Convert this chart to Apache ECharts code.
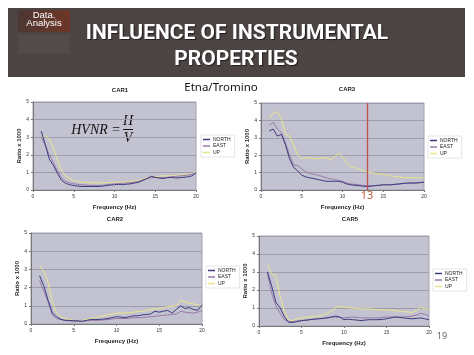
<!DOCTYPE html>
<html>
<head>
<meta charset="utf-8">
<script src="https://cdn.jsdelivr.net/npm/echarts@6/dist/echarts.min.js"></script>
<style>
    html, body { margin: 0; padding: 0; background: #fff; }
    #main { width: 474px; height: 355px; }
</style>
</head>
<body>
<div id="main"></div>
<script>
// 频率 (Hz)
var freq = [1, 1.5, 2, 2.5, 3, 3.5, 4, 4.5, 5, 5.5, 6, 6.5, 7, 7.5, 8, 8.5, 9, 9.5, 10, 10.5,
    11, 11.5, 12, 12.5, 13, 13.5, 14, 14.5, 15, 15.5, 16, 16.5, 17, 17.5, 18, 18.5, 19, 19.5, 20]
var seriesNames = ['NORTH', 'EAST', 'UP']
var xTicks = [0, 5, 10, 15, 20]
var yTicks = [0, 1, 2, 3, 4, 5]

// CAR1
var car1North = [3.35, 2.6, 1.75, 1.4, 0.95, 0.55, 0.38, 0.3, 0.25, 0.22, 0.2, 0.2, 0.2, 0.2, 0.2, 0.22, 0.25, 0.28, 0.3, 0.32,
    0.3, 0.33, 0.35, 0.4, 0.45, 0.55, 0.65, 0.78, 0.72, 0.68, 0.65, 0.7, 0.72, 0.68, 0.7, 0.72, 0.75, 0.8, 0.98]
var car1East = [3.0, 2.55, 2.0, 1.55, 1.1, 0.7, 0.5, 0.4, 0.35, 0.32, 0.3, 0.28, 0.27, 0.26, 0.25, 0.27, 0.3, 0.32, 0.35, 0.37,
    0.38, 0.4, 0.42, 0.45, 0.5, 0.58, 0.65, 0.7, 0.72, 0.7, 0.7, 0.72, 0.75, 0.77, 0.8, 0.82, 0.85, 0.9, 0.95]
var car1Up = [2.9, 3.1, 2.9, 2.4, 1.7, 1.1, 0.8, 0.65, 0.55, 0.5, 0.45, 0.43, 0.42, 0.4, 0.4, 0.41, 0.42, 0.44, 0.45, 0.45,
    0.46, 0.48, 0.5, 0.52, 0.55, 0.62, 0.7, 0.74, 0.76, 0.78, 0.8, 0.8, 0.8, 0.83, 0.85, 0.88, 0.9, 0.93, 1.0]

// CAR3
var car3North = [3.4, 3.5, 3.1, 3.2, 2.6, 1.8, 1.3, 1.1, 0.85, 0.75, 0.7, 0.65, 0.6, 0.55, 0.5, 0.5, 0.5, 0.5, 0.45, 0.35,
    0.3, 0.27, 0.25, 0.22, 0.2, 0.22, 0.25, 0.27, 0.3, 0.3, 0.3, 0.33, 0.35, 0.38, 0.4, 0.4, 0.4, 0.42, 0.45]
var car3East = [3.7, 3.9, 3.5, 3.3, 2.7, 2.0, 1.45, 1.4, 1.2, 1.05, 0.95, 0.9, 0.85, 0.78, 0.7, 0.65, 0.6, 0.55, 0.5, 0.4,
    0.35, 0.32, 0.3, 0.27, 0.25, 0.25, 0.25, 0.28, 0.3, 0.3, 0.3, 0.33, 0.35, 0.38, 0.4, 0.4, 0.4, 0.43, 0.45]
var car3Up = [4.1, 4.4, 4.5, 4.1, 3.2, 3.1, 2.6, 2.0, 1.8, 1.85, 1.85, 1.8, 1.8, 1.85, 1.85, 1.75, 1.9, 2.1, 1.9, 1.6,
    1.35, 1.28, 1.2, 1.12, 1.05, 1.0, 0.95, 0.92, 0.9, 0.85, 0.8, 0.78, 0.75, 0.72, 0.7, 0.7, 0.7, 0.7, 0.7]
var car3Mark = 13

// CAR2
var car2North = [2.65, 2.1, 1.3, 0.6, 0.4, 0.25, 0.2, 0.2, 0.18, 0.17, 0.15, 0.2, 0.25, 0.25, 0.25, 0.27, 0.3, 0.35, 0.4, 0.38,
    0.35, 0.4, 0.45, 0.45, 0.5, 0.52, 0.55, 0.7, 0.65, 0.7, 0.75, 0.6, 0.8, 1.0, 0.85, 0.9, 0.8, 0.75, 1.05]
var car2East = [2.4, 1.8, 1.2, 0.5, 0.3, 0.25, 0.2, 0.17, 0.15, 0.15, 0.15, 0.18, 0.2, 0.2, 0.2, 0.22, 0.25, 0.28, 0.3, 0.3,
    0.3, 0.32, 0.35, 0.35, 0.35, 0.38, 0.4, 0.42, 0.45, 0.48, 0.5, 0.52, 0.55, 0.7, 0.65, 0.62, 0.6, 0.65, 0.75]
var car2Up = [3.2, 2.9, 2.3, 1.2, 0.6, 0.4, 0.3, 0.25, 0.2, 0.1, 0.2, 0.25, 0.3, 0.35, 0.4, 0.45, 0.5, 0.55, 0.6, 0.6,
    0.6, 0.62, 0.65, 0.68, 0.7, 0.75, 0.8, 0.82, 0.85, 0.9, 0.95, 0.97, 1.0, 1.3, 1.2, 1.15, 1.1, 1.05, 1.0]

// CAR5
var car5North = [3.0, 2.2, 1.3, 1.0, 0.5, 0.2, 0.2, 0.25, 0.3, 0.32, 0.35, 0.38, 0.4, 0.42, 0.45, 0.5, 0.55, 0.5, 0.35, 0.38,
    0.35, 0.33, 0.3, 0.33, 0.35, 0.35, 0.35, 0.37, 0.4, 0.45, 0.5, 0.48, 0.45, 0.42, 0.4, 0.42, 0.45, 0.4, 0.35]
var car5East = [2.9, 1.8, 1.1, 0.7, 0.35, 0.25, 0.25, 0.28, 0.3, 0.32, 0.35, 0.38, 0.4, 0.42, 0.45, 0.48, 0.5, 0.48, 0.45, 0.48,
    0.5, 0.48, 0.45, 0.45, 0.45, 0.45, 0.45, 0.48, 0.5, 0.5, 0.5, 0.5, 0.5, 0.52, 0.55, 0.6, 0.7, 0.65, 0.55]
var car5Up = [3.4, 2.9, 2.8, 1.6, 0.8, 0.35, 0.3, 0.4, 0.45, 0.48, 0.5, 0.52, 0.55, 0.62, 0.7, 0.85, 1.0, 1.1, 1.05, 1.02,
    1.0, 0.97, 0.95, 0.95, 0.95, 0.92, 0.9, 0.9, 0.9, 0.88, 0.85, 0.82, 0.8, 0.78, 0.75, 0.85, 1.05, 0.95, 0.95]

var colors = ['#3d3a7e', '#9a7aa8', '#e8e68c']
var markColor = '#c0504d'
var font = 'Liberation Sans'

// 四个小图: 标题, 位置, 数据
var panels = [
    { title: 'CAR1', tx: 120, ty: 90, grid: { left: 33, top: 102, width: 163, height: 88 }, legend: { left: 201, top: 135 }, data: [car1North, car1East, car1Up] },
    { title: 'CAR3', tx: 347, ty: 89, grid: { left: 261, top: 103, width: 163, height: 87 }, legend: { left: 428, top: 136 }, data: [car3North, car3East, car3Up], mark: car3Mark },
    { title: 'CAR2', tx: 115, ty: 219, grid: { left: 31, top: 233, width: 171, height: 91 }, legend: { left: 206, top: 266 }, data: [car2North, car2East, car2Up] },
    { title: 'CAR5', tx: 350, ty: 219, grid: { left: 259, top: 236, width: 170, height: 90 }, legend: { left: 433, top: 269 }, data: [car5North, car5East, car5Up] }
]

function $each(arr, fn) { for (let i = 0; i < arr.length; i++) fn(i, arr[i]) }
function toPairs(values) {
    let out = []
    $each(values, (i, v) => { out.push([freq[i], v]) })
    return out
}

var grids = [], xAxes = [], yAxes = [], legends = [], series = []
var graphics = []

// 幻灯片标题栏
graphics.push({ type: 'rect', shape: { x: 8, y: 8, width: 457, height: 69 }, style: { fill: '#4b4443' } })
graphics.push({
    type: 'rect', shape: { x: 18, y: 10, width: 52, height: 22 },
    style: { fill: new echarts.graphic.LinearGradient(0, 0, 1, 0, [{ offset: 0, color: '#4c3733' }, { offset: 1, color: '#6e3626' }]) }
})
graphics.push({ type: 'rect', shape: { x: 18, y: 34, width: 52, height: 20 }, style: { fill: 'rgba(255,255,255,0.04)' } })
graphics.push({ type: 'text', x: 44, y: 15, style: { text: 'Data.', fill: '#fff', font: '9.5px "Liberation Sans"', align: 'center', verticalAlign: 'middle' } })
graphics.push({ type: 'text', x: 44, y: 23, style: { text: 'Analysis', fill: '#fff', font: '9.5px "Liberation Sans"', align: 'center', verticalAlign: 'middle' } })
graphics.push({ type: 'text', x: 237, y: 34, style: { text: 'INFLUENCE OF INSTRUMENTAL', fill: '#fff', font: 'bold 21px Roboto', align: 'center', verticalAlign: 'middle', textShadowColor: 'rgba(0,0,0,0.6)', textShadowOffsetX: 1, textShadowOffsetY: 1, textShadowBlur: 1 } })
graphics.push({ type: 'text', x: 236, y: 60, style: { text: 'PROPERTIES', fill: '#fff', font: 'bold 21px Roboto', align: 'center', verticalAlign: 'middle', textShadowColor: 'rgba(0,0,0,0.6)', textShadowOffsetX: 1, textShadowOffsetY: 1, textShadowBlur: 1 } })
graphics.push({ type: 'text', x: 221, y: 88, style: { text: 'Etna/Tromino', fill: '#111', font: '11.5px "Noto Sans"', align: 'center', verticalAlign: 'middle' } })

// 公式 HVNR = H/V
graphics.push({ type: 'text', x: 96, y: 130, style: { text: 'HVNR =', fill: '#111', font: 'italic 14px "Liberation Serif"', align: 'center', verticalAlign: 'middle' } })
graphics.push({ type: 'text', x: 128, y: 121, style: { text: 'H', fill: '#111', font: 'italic 14px "Liberation Serif"', align: 'center', verticalAlign: 'middle' } })
graphics.push({ type: 'line', shape: { x1: 123, y1: 129.5, x2: 133, y2: 129.5 }, style: { stroke: '#111', lineWidth: 1 } })
graphics.push({ type: 'text', x: 128, y: 138, style: { text: 'V', fill: '#111', font: 'italic 14px "Liberation Serif"', align: 'center', verticalAlign: 'middle' } })

// 页码
graphics.push({ type: 'text', x: 442, y: 336, style: { text: '19', fill: '#666', font: '9px "Noto Sans"', align: 'center', verticalAlign: 'middle' } })

$each(panels, (p, panel) => {
    graphics.push({ type: 'text', x: panel.tx, y: panel.ty, style: { text: panel.title, fill: '#222', font: 'bold 6px "Liberation Sans"', align: 'center', verticalAlign: 'middle' } })
    grids.push(Object.assign({
        show: true,
        backgroundColor: '#c3c2d0',
        borderColor: '#a3a2b2',
        borderWidth: 1
    }, panel.grid))
    xAxes.push({
        type: 'value',
        gridIndex: p,
        min: xTicks[0],
        max: xTicks[xTicks.length - 1],
        interval: 5,
        name: 'Frequency (Hz)',
        nameLocation: 'middle',
        nameGap: 14,
        nameTextStyle: { fontFamily: font, fontWeight: 'bold', fontSize: 6, color: '#222' },
        axisLine: { show: true, lineStyle: { color: '#777', width: 1 } },
        axisTick: { show: true, length: 2, lineStyle: { color: '#777' } },
        axisLabel: { fontFamily: font, fontSize: 5, color: '#333', margin: 4 },
        splitLine: { show: false }
    })
    yAxes.push({
        type: 'value',
        gridIndex: p,
        min: yTicks[0],
        max: yTicks[yTicks.length - 1],
        interval: 1,
        name: 'Ratio x 1000',
        nameLocation: 'middle',
        nameGap: 11,
        nameTextStyle: { fontFamily: font, fontWeight: 'bold', fontSize: 6, color: '#222' },
        axisLine: { show: true, lineStyle: { color: '#777', width: 1 } },
        axisTick: { show: true, length: 2, lineStyle: { color: '#777' } },
        axisLabel: { fontFamily: font, fontSize: 5, color: '#333', margin: 4 },
        splitLine: { show: true, lineStyle: { color: '#9e9dae', width: 1 } }
    })
    legends.push({
        left: panel.legend.left,
        top: panel.legend.top,
        orient: 'vertical',
        data: seriesNames,
        icon: 'rect',
        itemWidth: 7,
        itemHeight: 1.5,
        itemGap: 1.5,
        padding: [2, 4, 2, 2],
        backgroundColor: '#fff',
        borderColor: '#c8c8c8',
        borderWidth: 0.5,
        textStyle: { fontFamily: font, fontSize: 5, color: '#222', padding: [0, 0, 0, -2] }
    })
    $each(panel.data, (k, values) => {
        let s = {
            name: seriesNames[k],
            type: 'line',
            xAxisIndex: p,
            yAxisIndex: p,
            data: toPairs(values),
            showSymbol: false,
            silent: true,
            color: colors[k],
            lineStyle: { width: 1, color: colors[k] },
            z: k === 0 ? 4 : (k === 1 ? 3 : 2)
        }
        if (panel.mark !== undefined && k === 2) {
            // 13 Hz 红色竖线
            s.markLine = {
                symbol: 'none',
                silent: true,
                lineStyle: { color: markColor, type: 'solid', width: 1.3, opacity: 1 },
                itemStyle: { color: markColor },
                label: { show: true, position: 'start', formatter: String(panel.mark), color: '#c0603a', fontSize: 11, fontFamily: 'Noto Sans', distance: 0 },
                data: [{ xAxis: panel.mark, lineStyle: { color: markColor }, itemStyle: { color: markColor } }]
            }
        }
        series.push(s)
    })
})

var myChart = echarts.init(document.getElementById('main'))
var option = {
    animation: false,
    backgroundColor: '#fff',
    grid: grids,
    xAxis: xAxes,
    yAxis: yAxes,
    legend: legends,
    series: series,
    graphic: graphics
}
myChart.setOption(option)
</script>
</body>
</html>
